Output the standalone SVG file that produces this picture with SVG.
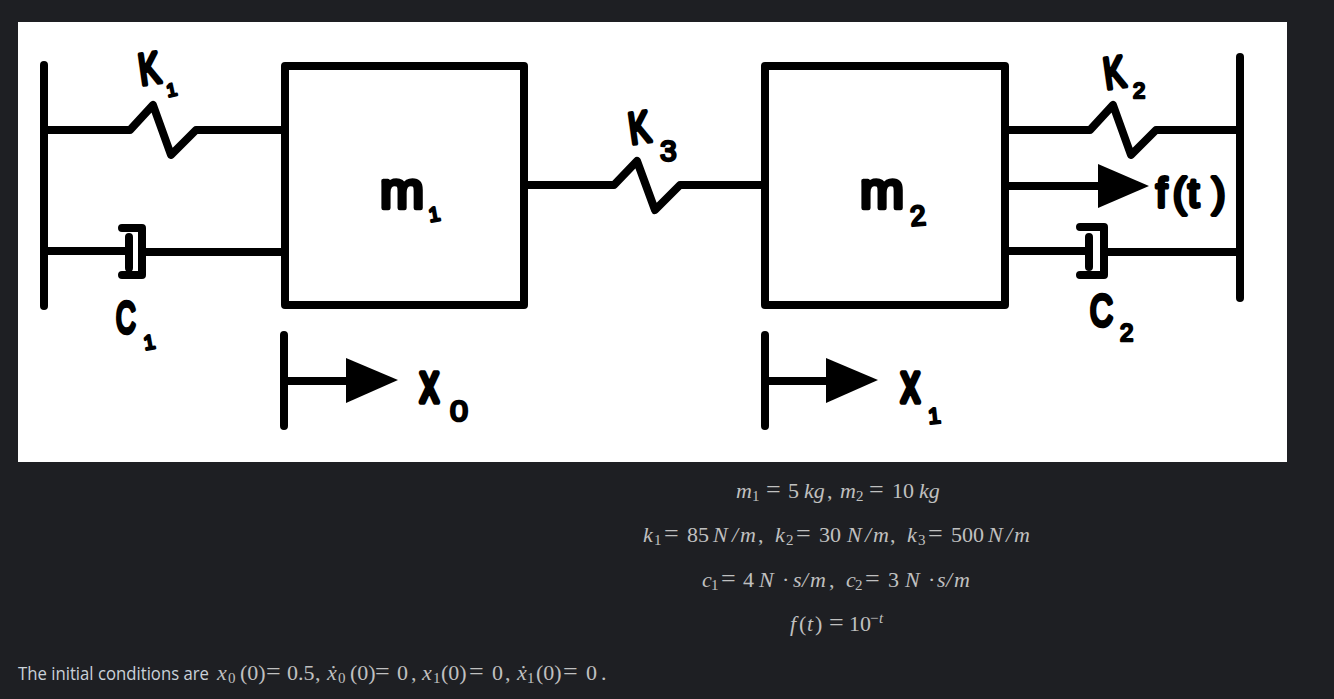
<svg xmlns="http://www.w3.org/2000/svg" width="1334" height="699" viewBox="0 0 1334 699">
<style>
.l{fill:none;stroke:#000;stroke-width:8;stroke-linecap:round;stroke-linejoin:round}
.a{fill:#000}
.h{font-family:"Liberation Sans",Arial,sans-serif;font-weight:400;fill:#000;stroke:#000;stroke-width:4.5;stroke-linejoin:round;stroke-linecap:round}
.t{stroke-width:2.5}
.m{font-family:"Liberation Serif","Times New Roman",serif;font-size:22px;fill:#c0c0c0;font-style:italic}
.n{font-style:normal}
.e{font-style:normal;font-size:26px}
.s{font-size:15px;font-style:normal}
.b{font-family:"Open Sans",sans-serif;font-size:17.5px;fill:#c9d1d9}
</style>
<rect width="1334" height="699" fill="#1e1f23"/>
<rect x="18" y="22" width="1269" height="440" fill="#fff"/>
<g id="wall-left"><path class="l" d="M44 65V306"/></g>
<g id="mass-1"><rect class="l" x="285" y="66" width="239" height="239"/><text class="h" transform="translate(380 208)" font-size="52" textLength="44" lengthAdjust="spacingAndGlyphs">m</text><text class="h t" transform="translate(430 222) rotate(-10)" font-size="20">1</text></g>
<g id="mass-2"><rect class="l" x="765" y="66" width="240" height="239"/><text class="h" transform="translate(860 208)" font-size="52" textLength="44" lengthAdjust="spacingAndGlyphs">m</text><text class="h t" transform="translate(911 226) rotate(-5)" font-size="28">2</text></g>
<g id="wall-right"><path class="l" d="M1240 57V298"/></g>
<g id="connectors">
<path class="l" d="M48 130H130L153 105L171 155L196 130H283"/>
<path class="l" d="M44 251H127M129 237V268M122 228H142V275H122M142 252H283"/>
<path class="l" d="M527 185H614L637 161L655 210L680 185H763"/>
<path class="l" d="M1005 130H1090L1113 105L1131 155L1156 130H1240"/>
<path class="l" d="M1005 186H1100"/><path class="a" d="M1098 164L1149 186L1098 208Z"/>
<path class="l" d="M1005 251H1087M1089 237V267M1080 227H1104V275H1080M1104 252H1240"/>
<path class="l" d="M284 335V426M284 381H348"/><path class="a" d="M346 358L398 380L346 403Z"/>
<path class="l" d="M765 335V426M765 381H828"/><path class="a" d="M826 358L878 380L826 403Z"/>
</g>
<g id="label-k1"><text class="h" transform="translate(141 85) rotate(-8) scale(.72 1)" font-size="44">K</text><text class="h t" transform="translate(168 97) rotate(-12)" font-size="18">1</text></g>
<g id="label-k2"><text class="h" transform="translate(1106 89) rotate(-8) scale(.72 1)" font-size="44">K</text><text class="h t" transform="translate(1133 98)" font-size="22">2</text></g>
<g id="label-k3"><text class="h" transform="translate(631 144) rotate(-8) scale(.72 1)" font-size="44">K</text><text class="h t" transform="translate(660 161)" font-size="30">3</text></g>
<g id="label-c1"><text class="h" transform="translate(116 333) scale(.62 1)" font-size="44">C</text><text class="h t" transform="translate(145 350) rotate(-10)" font-size="20">1</text></g>
<g id="label-c2"><text class="h" transform="translate(1090 326) scale(.72 1)" font-size="44">C</text><text class="h t" transform="translate(1120 341)" font-size="24">2</text></g>
<g id="label-x0"><text class="h" transform="translate(420 402) scale(.85 1.25)" font-size="44">x</text><text class="h t" transform="translate(450 421)" font-size="30" textLength="18" lengthAdjust="spacingAndGlyphs">0</text></g>
<g id="label-x1"><text class="h" transform="translate(901 402) scale(.85 1.25)" font-size="44">x</text><text class="h t" transform="translate(929 424) rotate(-6)" font-size="22">1</text></g>
<g id="label-f"><text class="h" style="stroke-width:3.8" y="207" font-size="40"><tspan x="1156">f</tspan><tspan x="1173">(</tspan><tspan x="1188">t</tspan><tspan x="1212">)</tspan></text></g>
<g id="params">
<text class="m" y="498"><tspan x="736">m</tspan><tspan class="s" x="752" dy="3">1</tspan><tspan class="e" x="766" dy="-3">=</tspan><tspan class="n" x="788">5</tspan><tspan x="804">kg</tspan><tspan class="n" x="827">,</tspan><tspan x="840">m</tspan><tspan class="s" x="856" dy="3">2</tspan><tspan class="e" x="869" dy="-3">=</tspan><tspan class="n" x="892">10</tspan><tspan x="919">kg</tspan></text>
<text class="m" y="542"><tspan x="643">k</tspan><tspan class="s" x="654" dy="3">1</tspan><tspan class="e" x="664" dy="-3">=</tspan><tspan class="n" x="687">85</tspan><tspan x="713">N</tspan><tspan x="732">/</tspan><tspan x="740">m</tspan><tspan class="n" x="758">,</tspan><tspan x="775">k</tspan><tspan class="s" x="786" dy="3">2</tspan><tspan class="e" x="796" dy="-3">=</tspan><tspan class="n" x="819">30</tspan><tspan x="847">N</tspan><tspan x="865">/</tspan><tspan x="873">m</tspan><tspan class="n" x="890">,</tspan><tspan x="907">k</tspan><tspan class="s" x="918" dy="3">3</tspan><tspan class="e" x="928" dy="-3">=</tspan><tspan class="n" x="951">500</tspan><tspan x="988">N</tspan><tspan x="1006">/</tspan><tspan x="1014">m</tspan></text>
<text class="m" y="587"><tspan x="702">c</tspan><tspan class="s" x="711" dy="3">1</tspan><tspan class="e" x="721" dy="-3">=</tspan><tspan class="n" x="743">4</tspan><tspan x="759">N</tspan><tspan class="n" x="782">·</tspan><tspan x="793">s</tspan><tspan x="802">/</tspan><tspan x="810">m</tspan><tspan class="n" x="829">,</tspan><tspan x="846">c</tspan><tspan class="s" x="855" dy="3">2</tspan><tspan class="e" x="865" dy="-3">=</tspan><tspan class="n" x="888">3</tspan><tspan x="905">N</tspan><tspan class="n" x="928">·</tspan><tspan x="937">s</tspan><tspan x="946">/</tspan><tspan x="954">m</tspan></text>
<text class="m" y="631"><tspan x="790">f</tspan><tspan class="n" x="799">(</tspan><tspan x="807">t</tspan><tspan class="n" x="815">)</tspan><tspan class="e" x="829">=</tspan><tspan class="n" x="849">10</tspan><tspan class="s" x="870" dy="-8">−</tspan><tspan class="s" x="879" style="font-style:italic">t</tspan></text>
</g>
<g id="initial-conditions">
<text class="b" x="18" y="680" textLength="191" lengthAdjust="spacingAndGlyphs">The initial conditions are</text>
<text class="m" y="680"><tspan x="217">x</tspan><tspan class="s" x="228" dy="3">0</tspan><tspan class="n" x="240" dy="-3">(0)</tspan><tspan class="e" x="266">=</tspan><tspan class="n" x="287">0.5</tspan><tspan class="n" x="315">,</tspan><tspan x="327">ẋ</tspan><tspan class="s" x="338" dy="3">0</tspan><tspan class="n" x="350" dy="-3">(0)</tspan><tspan class="e" x="375">=</tspan><tspan class="n" x="397">0</tspan><tspan class="n" x="411">,</tspan><tspan x="422">x</tspan><tspan class="s" x="433" dy="3">1</tspan><tspan class="n" x="441" dy="-3">(0)</tspan><tspan class="e" x="469">=</tspan><tspan class="n" x="492">0</tspan><tspan class="n" x="505">,</tspan><tspan x="517">ẋ</tspan><tspan class="s" x="527" dy="3">1</tspan><tspan class="n" x="536" dy="-3">(0)</tspan><tspan class="e" x="563">=</tspan><tspan class="n" x="586">0</tspan><tspan class="n" x="601">.</tspan></text>
</g>
</svg>
